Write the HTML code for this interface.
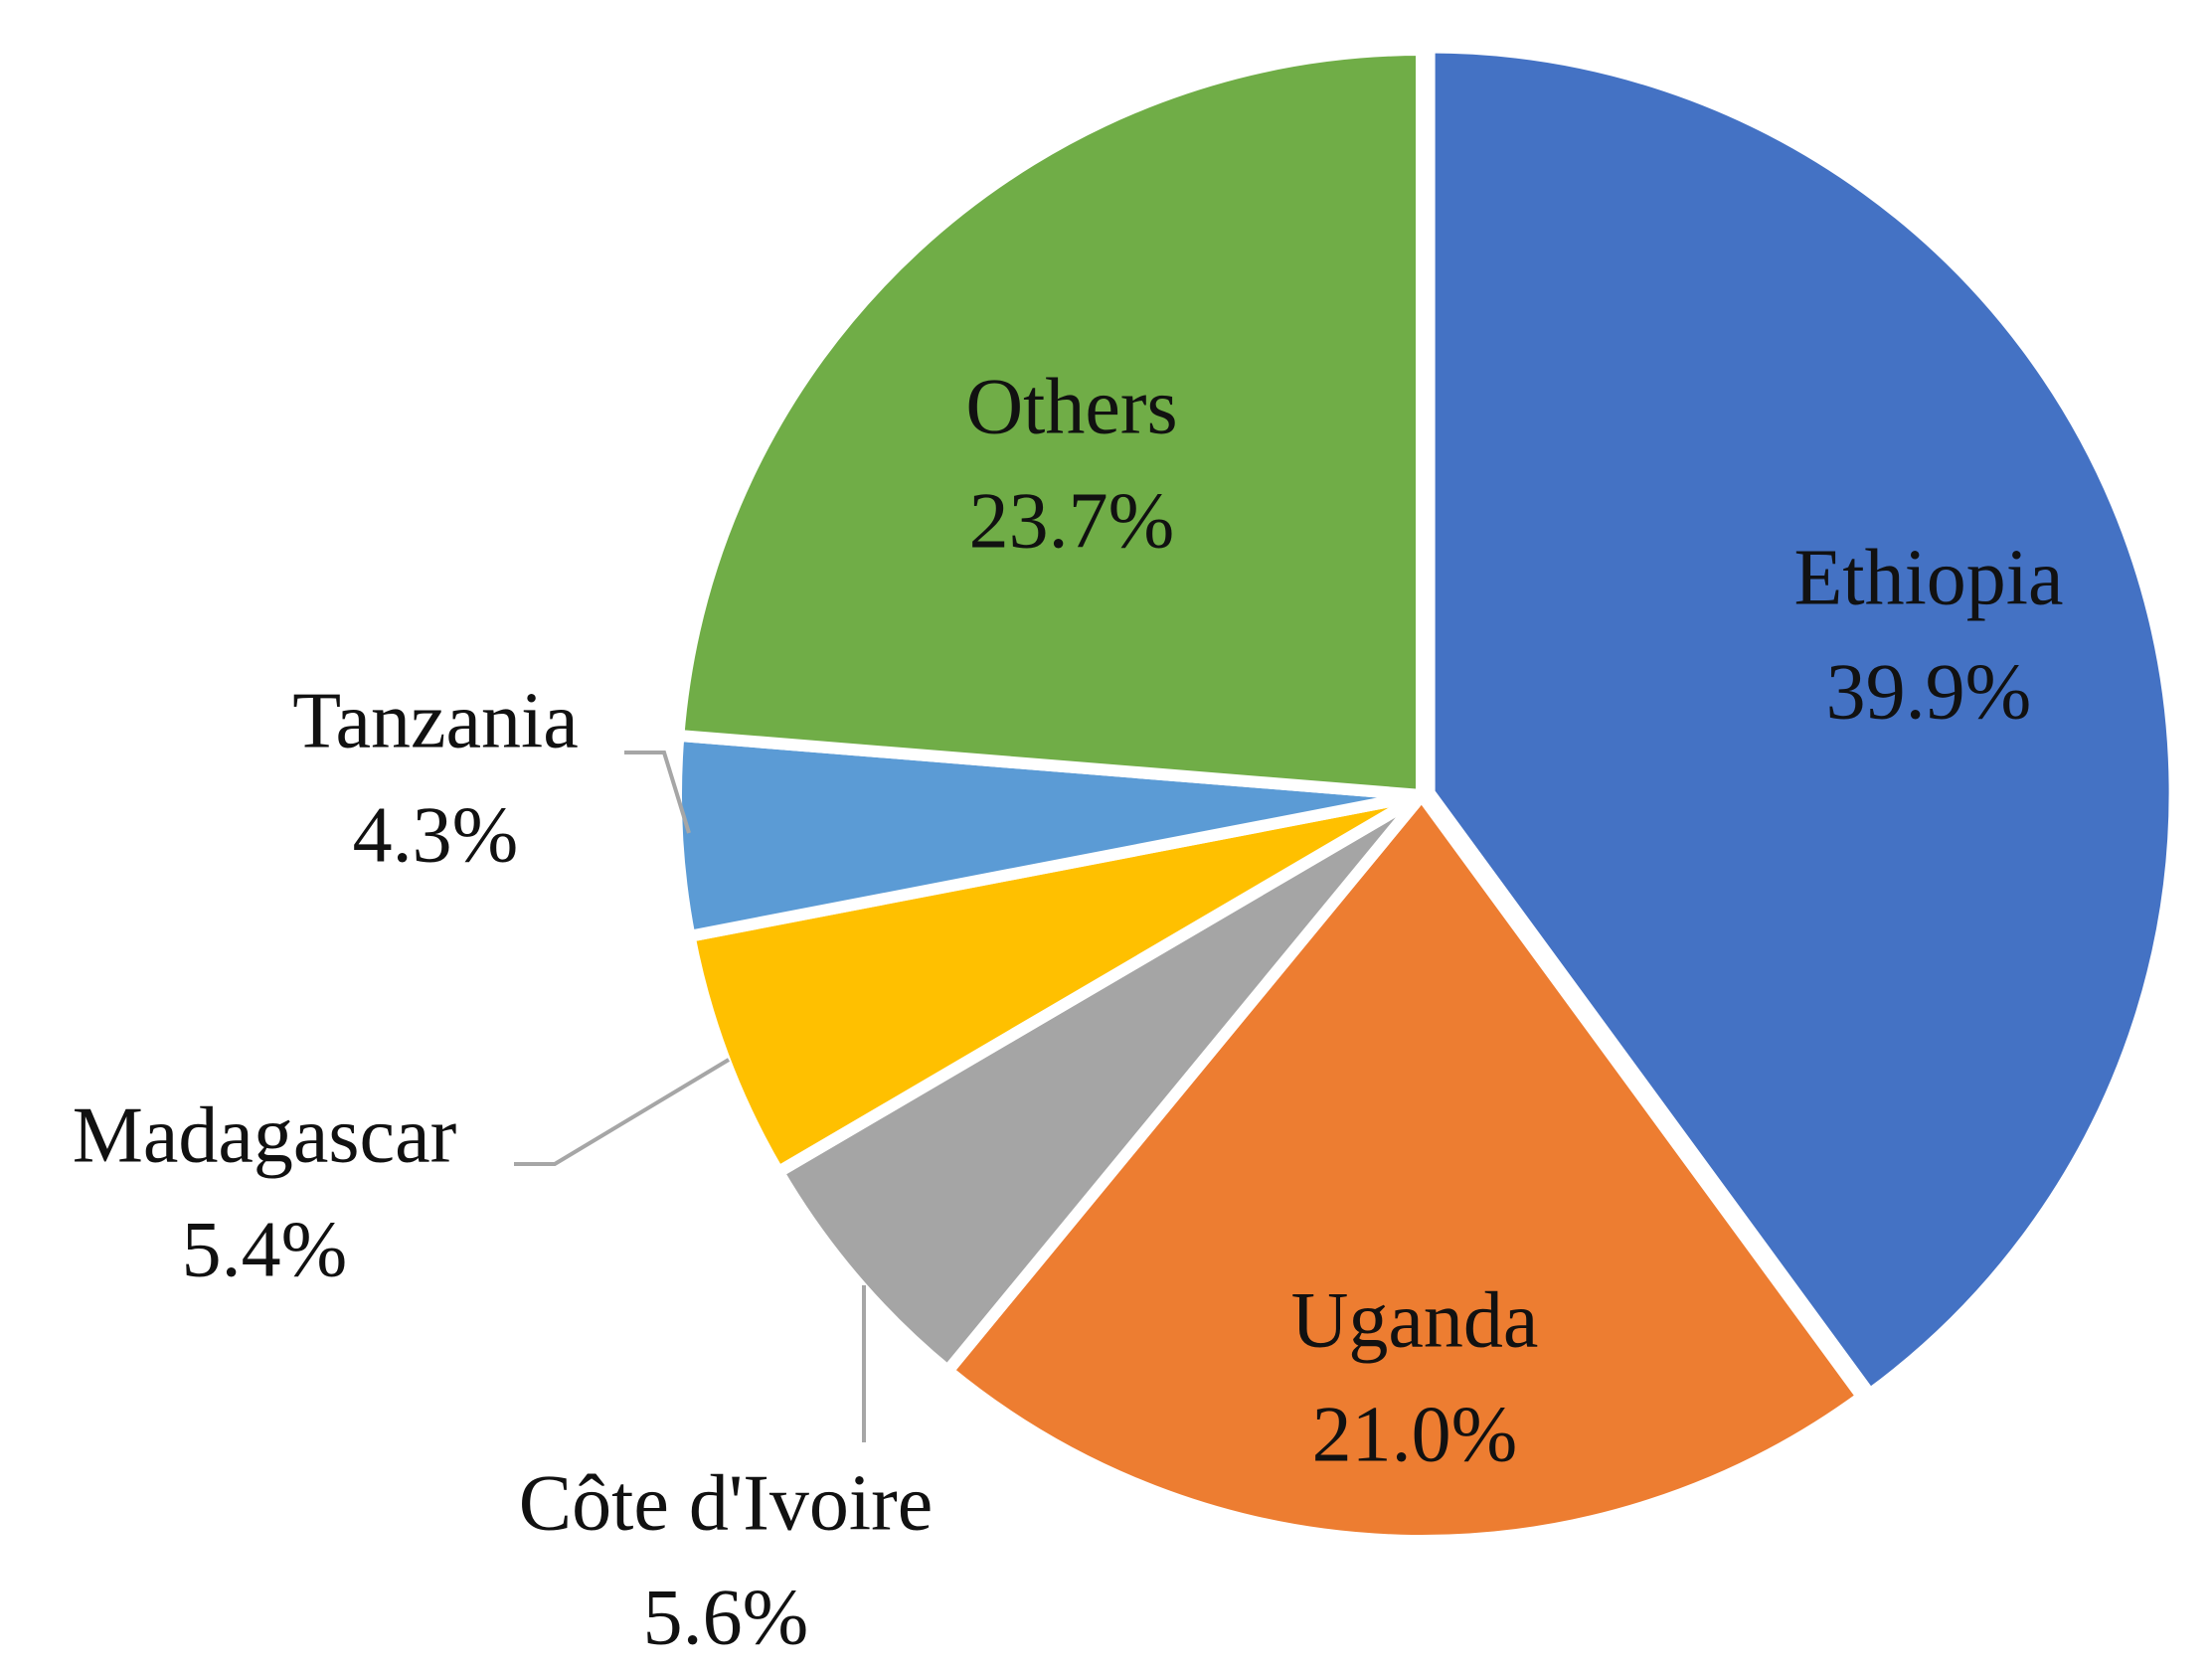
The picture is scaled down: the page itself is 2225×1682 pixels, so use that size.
<!DOCTYPE html>
<html><head><meta charset="utf-8"><style>
html,body{margin:0;padding:0;background:#fff;}
svg{display:block;}
text{font-family:"Liberation Serif",serif;font-size:80px;fill:#111;}
</style></head><body>
<svg id="chart" width="2225" height="1682" viewBox="0 0 2225 1682" xmlns="http://www.w3.org/2000/svg">
<g id="slices"></g>
<g id="leaders" stroke="#a6a6a6" stroke-width="4" fill="none">
<polyline points="628,757 668,757 693,838"/>
<polyline points="517,1171 558,1171 733,1066"/>
<polyline points="869,1293 869,1451"/>
</g>
<g id="labels" text-anchor="middle" dominant-baseline="middle"></g>
</svg>
<script>
const categories = ["Ethiopia","Uganda","Côte d'Ivoire","Madagascar","Tanzania","Others"];
const values = [39.9,21.0,5.6,5.4,4.3,23.7];
const valueLabels = ["39.9%","21.0%","5.6%","5.4%","4.3%","23.7%"];
const colors = ["#4472c4","#ed7d31","#a5a5a5","#ffc000","#5b9bd5","#70ad47"];
const labelPos = [[1940,589],[1423,1336],[730,1520],[266,1150],[438,733],[1078,417]];
const cx=1430, cy=800, r=750;
const total = values.reduce((a,b)=>a+b,0);
const NS="http://www.w3.org/2000/svg";
const gS=document.getElementById('slices'), gL=document.getElementById('labels');
let acc=0;
function pt(f,rr){const a=f*2*Math.PI;return [cx+rr*Math.sin(a), cy-rr*Math.cos(a)];}
values.forEach((v,i)=>{
  const f0=acc/total, f1=(acc+v)/total; acc+=v;
  const off = i===0?8:0; const fm=(f0+f1)/2;
  const dx=off*Math.sin(fm*2*Math.PI), dy=-off*Math.cos(fm*2*Math.PI);
  const p0=pt(f0,r), p1=pt(f1,r);
  const large=(f1-f0)>0.5?1:0;
  const p=document.createElementNS(NS,'path');
  p.setAttribute('d',`M${cx},${cy} L${p0[0]},${p0[1]} A${r},${r} 0 ${large} 1 ${p1[0]},${p1[1]} Z`);
  p.setAttribute('transform',`translate(${dx},${dy})`);
  p.setAttribute('fill',colors[i]);
  p.setAttribute('stroke','#fff');
  p.setAttribute('stroke-width','12');
  p.setAttribute('stroke-linejoin','round');
  
  
  gS.appendChild(p);
  const [lx,ly]=labelPos[i];
  const t1=document.createElementNS(NS,'text');
  t1.setAttribute('x',lx);t1.setAttribute('y',ly);t1.textContent=categories[i];
  
  
  gL.appendChild(t1);
  const t2=document.createElementNS(NS,'text');
  t2.setAttribute('x',lx);t2.setAttribute('y',ly+115);t2.textContent=valueLabels[i];
  
  
  gL.appendChild(t2);
});
</script>
</body></html>
